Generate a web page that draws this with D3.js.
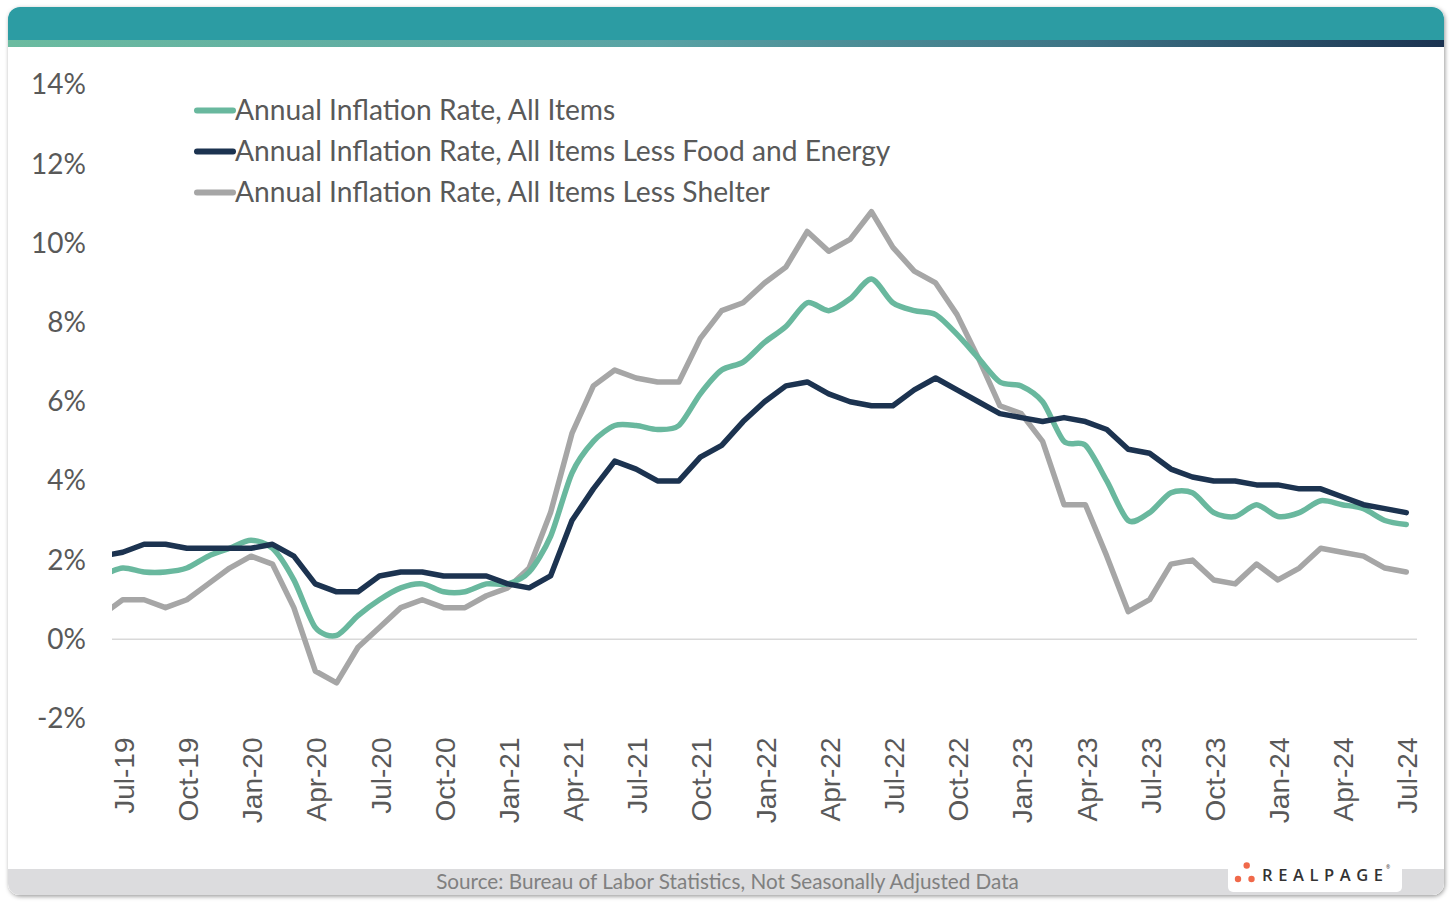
<!DOCTYPE html>
<html>
<head>
<meta charset="utf-8">
<script src="https://cdn.jsdelivr.net/npm/d3@7"></script>
<style>
	body { margin: 0; background: #fff; }
	svg { display: block; }
</style>
</head>
<body>
<svg id="chart" width="1455" height="903"></svg>
<script>
// Monthly data, Jun-19 .. Jul-24 (Jun-19 only feeds the clipped lead-in at the left edge)
const months = [
	"Jun-19", "Jul-19", "Aug-19", "Sep-19", "Oct-19", "Nov-19", "Dec-19",
	"Jan-20", "Feb-20", "Mar-20", "Apr-20", "May-20", "Jun-20", "Jul-20", "Aug-20", "Sep-20", "Oct-20", "Nov-20", "Dec-20",
	"Jan-21", "Feb-21", "Mar-21", "Apr-21", "May-21", "Jun-21", "Jul-21", "Aug-21", "Sep-21", "Oct-21", "Nov-21", "Dec-21",
	"Jan-22", "Feb-22", "Mar-22", "Apr-22", "May-22", "Jun-22", "Jul-22", "Aug-22", "Sep-22", "Oct-22", "Nov-22", "Dec-22",
	"Jan-23", "Feb-23", "Mar-23", "Apr-23", "May-23", "Jun-23", "Jul-23", "Aug-23", "Sep-23", "Oct-23", "Nov-23", "Dec-23",
	"Jan-24", "Feb-24", "Mar-24", "Apr-24", "May-24", "Jun-24", "Jul-24"
];

const allItems = [
	1.6, 1.8, 1.7, 1.7, 1.8, 2.1, 2.3,
	2.5, 2.3, 1.5, 0.3, 0.1, 0.6, 1.0, 1.3, 1.4, 1.2, 1.2, 1.4,
	1.4, 1.7, 2.6, 4.2, 5.0, 5.4, 5.4, 5.3, 5.4, 6.2, 6.8, 7.0,
	7.5, 7.9, 8.5, 8.3, 8.6, 9.1, 8.5, 8.3, 8.2, 7.7, 7.1, 6.5,
	6.4, 6.0, 5.0, 4.9, 4.0, 3.0, 3.2, 3.7, 3.7, 3.2, 3.1, 3.4,
	3.1, 3.2, 3.5, 3.4, 3.3, 3.0, 2.9
];

const lessFoodEnergy = [
	2.1, 2.2, 2.4, 2.4, 2.3, 2.3, 2.3,
	2.3, 2.4, 2.1, 1.4, 1.2, 1.2, 1.6, 1.7, 1.7, 1.6, 1.6, 1.6,
	1.4, 1.3, 1.6, 3.0, 3.8, 4.5, 4.3, 4.0, 4.0, 4.6, 4.9, 5.5,
	6.0, 6.4, 6.5, 6.2, 6.0, 5.9, 5.9, 6.3, 6.6, 6.3, 6.0, 5.7,
	5.6, 5.5, 5.6, 5.5, 5.3, 4.8, 4.7, 4.3, 4.1, 4.0, 4.0, 3.9,
	3.9, 3.8, 3.8, 3.6, 3.4, 3.3, 3.2
];

const lessShelter = [
	0.6, 1.0, 1.0, 0.8, 1.0, 1.4, 1.8,
	2.1, 1.9, 0.8, -0.8, -1.1, -0.2, 0.3, 0.8, 1.0, 0.8, 0.8, 1.1,
	1.3, 1.8, 3.2, 5.2, 6.4, 6.8, 6.6, 6.5, 6.5, 7.6, 8.3, 8.5,
	9.0, 9.4, 10.3, 9.8, 10.1, 10.8, 9.9, 9.3, 9.0, 8.2, 7.1, 5.9,
	5.7, 5.0, 3.4, 3.4, 2.1, 0.7, 1.0, 1.9, 2.0, 1.5, 1.4, 1.9,
	1.5, 1.8, 2.3, 2.2, 2.1, 1.8, 1.7
];

const seriesNames = [
	"Annual Inflation Rate, All Items",
	"Annual Inflation Rate, All Items Less Food and Energy",
	"Annual Inflation Rate, All Items Less Shelter"
];

const xTickLabels = [
	"Jul-19", "Oct-19", "Jan-20", "Apr-20", "Jul-20", "Oct-20", "Jan-21", "Apr-21", "Jul-21", "Oct-21", "Jan-22",
	"Apr-22", "Jul-22", "Oct-22", "Jan-23", "Apr-23", "Jul-23", "Oct-23", "Jan-24", "Apr-24", "Jul-24"
];

const yTicks = [-2, 0, 2, 4, 6, 8, 10, 12, 14];

/**
 * Layout & styles
 */
const colors = ["#69b89e", "#1c3350", "#a6a6a6"];
const textColor = "#595959";
const plot = { left: 112, right: 1417, top: 85, bottom: 718.5 };
const card = { x: 8, y: 7, w: 1436, h: 888, r: 12 };

const svg = d3.select("#chart");
const defs = svg.append("defs");

// Card shadow
const shadow = defs.append("filter").attr("id", "shadow")
	.attr("x", "-2%").attr("y", "-2%").attr("width", "104%").attr("height", "104%");
shadow.append("feDropShadow")
	.attr("dx", 1).attr("dy", 1.5).attr("stdDeviation", 2.2)
	.attr("flood-color", "#000").attr("flood-opacity", 0.4);

defs.append("clipPath").attr("id", "cardClip")
	.append("rect")
	.attr("x", card.x).attr("y", card.y).attr("width", card.w).attr("height", card.h)
	.attr("rx", card.r);

defs.append("clipPath").attr("id", "plotClip")
	.append("rect")
	.attr("x", plot.left).attr("y", 0).attr("width", plot.right - plot.left + 10).attr("height", 903);

const grad = defs.append("linearGradient").attr("id", "band");
grad.selectAll("stop")
	.data([[0, "#6bbba0"], [0.45, "#59a3a5"], [0.75, "#3d7385"], [1, "#1b3351"]])
	.enter().append("stop")
	.attr("offset", d => d[0]).attr("stop-color", d => d[1]);

// Card
svg.append("rect")
	.attr("x", card.x).attr("y", card.y).attr("width", card.w).attr("height", card.h)
	.attr("rx", card.r).attr("fill", "#fff").attr("filter", "url(#shadow)");

const frame = svg.append("g").attr("clip-path", "url(#cardClip)");
frame.append("rect").attr("x", card.x).attr("y", card.y).attr("width", card.w).attr("height", 33)
	.attr("fill", "#2c9ca3");
frame.append("rect").attr("x", card.x).attr("y", 40).attr("width", card.w).attr("height", 7)
	.attr("fill", "url(#band)");
frame.append("rect").attr("x", card.x).attr("y", 869).attr("width", card.w).attr("height", 40)
	.attr("fill", "#dcdcde");

/**
 * Scales
 */
// index 1 (Jul-19) sits half a month inside the plot edge
const x = d3.scaleLinear().domain([0.5, months.length - 0.5]).range([plot.left, plot.right]);
const y = d3.scaleLinear().domain([-2, 14]).range([plot.bottom, plot.top]);

// Zero gridline
svg.append("line")
	.attr("x1", plot.left).attr("x2", plot.right)
	.attr("y1", y(0)).attr("y2", y(0))
	.attr("stroke", "#d9d9d9").attr("stroke-width", 1.5);

// Y axis
const yAxis = svg.append("g")
	.attr("transform", "translate(86,0)")
	.call(d3.axisLeft(y).tickValues(yTicks).tickSize(0).tickPadding(0).tickFormat(d => d + "%"));
yAxis.select(".domain").remove();
yAxis.selectAll("text")
	.attr("fill", textColor)
	.style("font-family", "Lato, sans-serif")
	.style("font-size", "28px");

// X axis
const xAxis = svg.append("g")
	.attr("transform", "translate(0," + plot.bottom + ")")
	.call(d3.axisBottom(x)
		.tickValues(xTickLabels.map(m => months.indexOf(m)))
		.tickSize(0)
		.tickFormat(i => months[i]));
xAxis.select(".domain").remove();
xAxis.selectAll("text")
	.attr("fill", textColor)
	.attr("text-anchor", "end")
	.attr("transform", "rotate(-90)")
	.attr("x", -19)
	.attr("y", 0)
	.attr("dy", "0.38em")
	.attr("dx", 0)
	.style("font-family", "'Liberation Sans', Arial, sans-serif")
	.style("font-size", "28px");

/**
 * Lines
 */
const series = [allItems, lessFoodEnergy, lessShelter];
const curves = [d3.curveCardinal.tension(0.2), d3.curveLinear, d3.curveLinear];

const lines = svg.append("g").attr("clip-path", "url(#plotClip)");
// draw back to front: shelter, all items, core on top
[2, 0, 1].forEach(function(s) {
	const line = d3.line()
		.x((d, i) => x(i))
		.y(d => y(d))
		.curve(curves[s]);
	lines.append("path")
		.datum(series[s])
		.attr("d", line)
		.attr("fill", "none")
		.attr("stroke", colors[s])
		.attr("stroke-width", 5.5)
		.attr("stroke-linejoin", "round")
		.attr("stroke-linecap", "round");
});

/**
 * Legend
 */
const legend = svg.append("g").selectAll("g")
	.data(seriesNames)
	.enter().append("g")
	.attr("transform", (d, i) => "translate(195," + [110.5, 151.5, 192.5][i] + ")");
legend.append("line")
	.attr("x1", 2).attr("x2", 38)
	.attr("stroke", (d, i) => colors[i])
	.attr("stroke-width", 6)
	.attr("stroke-linecap", "round");
legend.append("text")
	.attr("x", 40)
	.attr("dy", "0.35em")
	.attr("fill", textColor)
	.style("font-family", "Lato, sans-serif")
	.style("font-size", "28.2px")
	.text(d => d);

/**
 * Footer: source + logo
 */
svg.append("text")
	.attr("x", 727.5).attr("y", 889)
	.attr("text-anchor", "middle")
	.attr("fill", "#808080")
	.style("font-family", "Lato, sans-serif")
	.style("font-size", "20.7px")
	.text("Source: Bureau of Labor Statistics, Not Seasonally Adjusted Data");

const logo = svg.append("g");
logo.append("rect")
	.attr("x", 1228).attr("y", 855).attr("width", 174).attr("height", 37)
	.attr("rx", 5).attr("fill", "#fff");
logo.selectAll("circle")
	.data([[1246.7, 865.5], [1238, 879], [1251.5, 879]])
	.enter().append("circle")
	.attr("cx", d => d[0]).attr("cy", d => d[1]).attr("r", 3.2)
	.attr("fill", "#f0694a");
logo.append("text")
	.attr("x", 1262).attr("y", 880.5)
	.attr("fill", "#333")
	.style("font-family", "'Open Sans', sans-serif")
	.style("font-weight", 600)
	.style("font-size", "16.5px")
	.style("letter-spacing", "5.6px")
	.text("REALPAGE");
logo.append("text")
	.attr("x", 1386).attr("y", 869)
	.attr("fill", "#333")
	.style("font-family", "'Open Sans', sans-serif")
	.style("font-size", "5px")
	.text("®");
</script>
</body>
</html>
